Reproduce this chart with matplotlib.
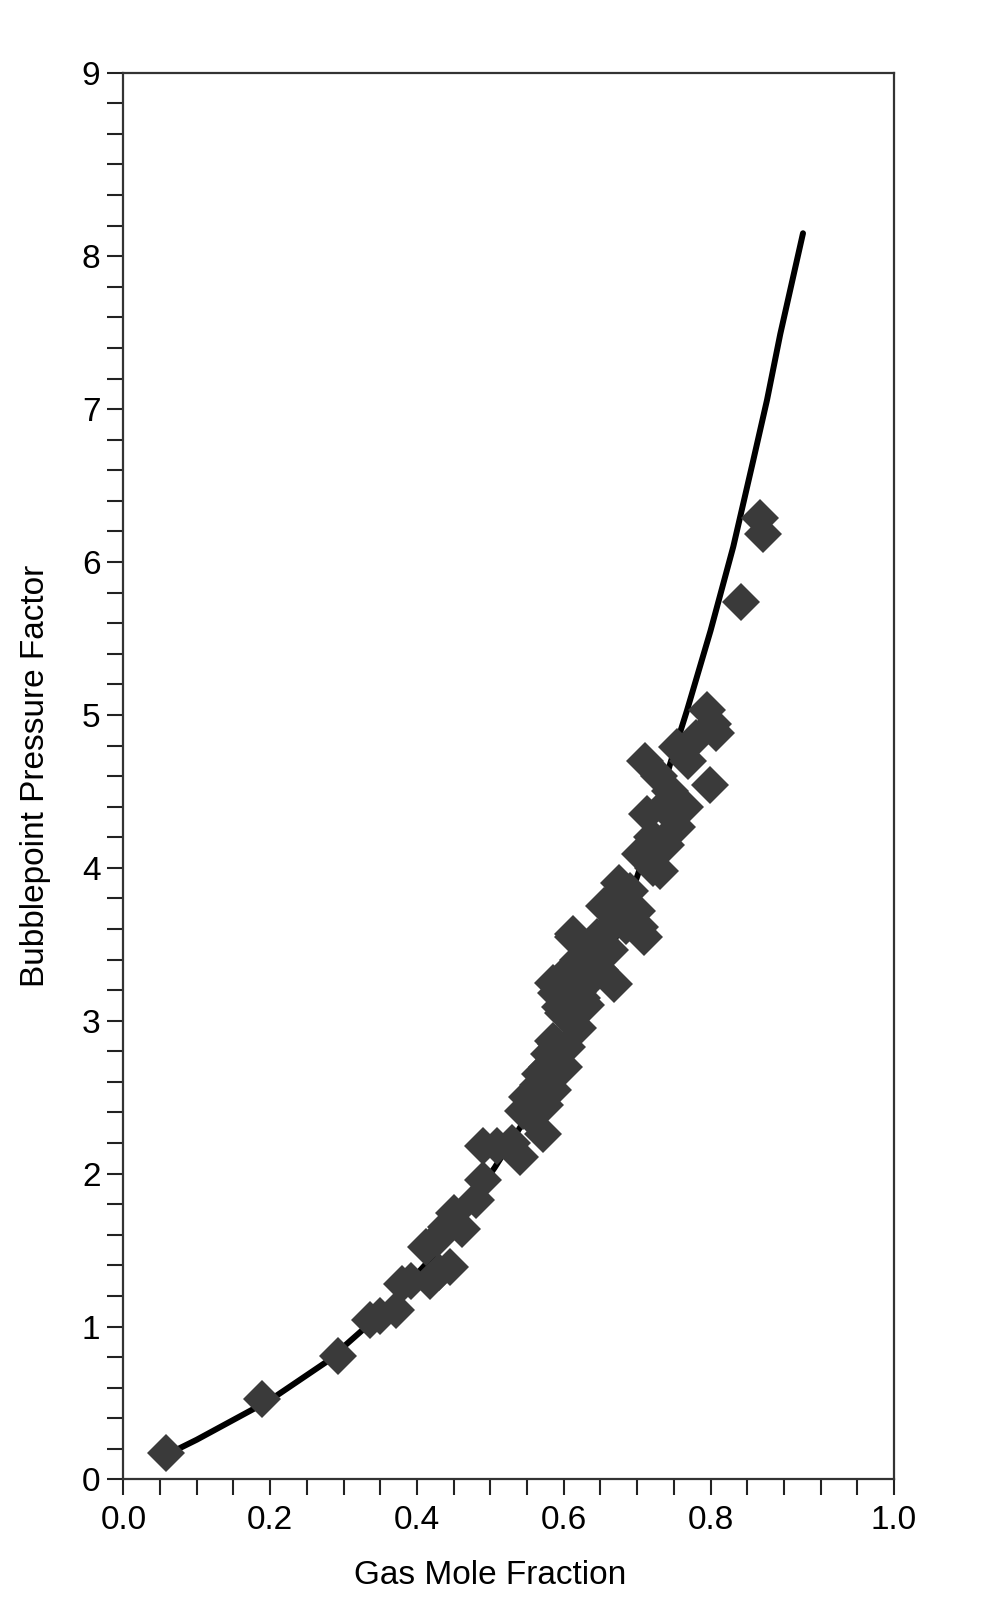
import matplotlib
matplotlib.use("Agg")
import matplotlib.pyplot as plt
from matplotlib.ticker import MultipleLocator

plt.rcParams['font.family'] = ['Liberation Sans', 'DejaVu Sans']

# fitted curve
curve_x = [0.058, 0.10, 0.15, 0.20, 0.277, 0.35, 0.42, 0.506, 0.56, 0.618,
           0.659, 0.702, 0.745, 0.768, 0.80, 0.831, 0.858, 0.877, 0.895, 0.926]
curve_y = [0.16, 0.26, 0.39, 0.52, 0.77, 1.08, 1.45, 2.04, 2.45, 2.96,
           3.38, 3.97, 4.68, 5.03, 5.55, 6.10, 6.66, 7.06, 7.49, 8.15]

# measured data
gas_x = [0.058, 0.189, 0.293,
         0.336, 0.350, 0.372, 0.379, 0.392, 0.418, 0.430, 0.445, 0.413, 0.427,
         0.440, 0.450, 0.462,
         0.481, 0.490, 0.490, 0.509, 0.540, 0.530, 0.555, 0.572, 0.559, 0.545,
         0.550,
         0.568, 0.577, 0.586, 0.590, 0.604, 0.595, 0.599, 0.580, 0.565,
         0.600, 0.585, 0.575,
         0.613, 0.613, 0.631, 0.668, 0.650, 0.663, 0.677, 0.704, 0.709, 0.620,
         0.640, 0.625, 0.612, 0.645, 0.660, 0.672, 0.690, 0.700, 0.685,
         0.585, 0.590, 0.600, 0.630, 0.640, 0.620, 0.655, 0.675, 0.690,
         0.722, 0.731, 0.704, 0.713, 0.754, 0.720, 0.735, 0.745, 0.730, 0.711,
         0.754, 0.770, 0.799, 0.804, 0.795, 0.808, 0.780, 0.765, 0.740,
         0.842, 0.867, 0.872]
gas_y = [0.17, 0.526, 0.81,
         1.04, 1.07, 1.11, 1.28, 1.30, 1.30, 1.36, 1.39, 1.52, 1.57,
         1.65, 1.74, 1.64,
         1.83, 1.96, 2.18, 2.18, 2.11, 2.20, 2.37, 2.26, 2.50, 2.41,
         2.50,
         2.65, 2.70, 2.87, 2.85, 2.83, 3.09, 3.05, 2.78, 2.58,
         2.70, 2.55, 2.45,
         3.57, 3.55, 3.24, 3.24, 3.33, 3.46, 3.70, 3.61, 3.55, 3.40,
         3.30, 3.15, 3.20, 3.55, 3.60, 3.83, 3.75, 3.72, 3.62,
         3.25, 3.18, 3.30, 3.10, 3.45, 2.95, 3.75, 3.90, 3.85,
         4.00, 3.98, 4.09, 4.35, 4.27, 4.20, 4.40, 4.50, 4.60, 4.70,
         4.79, 4.70, 4.54, 4.94, 5.03, 4.88, 4.85, 4.40, 4.15,
         5.74, 6.29, 6.18]

x_ticks = [0.0, 0.2, 0.4, 0.6, 0.8, 1.05]
x_labels = ["0.0", "0.2", "0.4", "0.6", "0.8", "1.0"]
y_ticks = [0, 1, 2, 3, 4, 5, 6, 7, 8, 9.2]
y_labels = ["0", "1", "2", "3", "4", "5", "6", "7", "8", "9"]

fig = plt.figure(figsize=(9.82, 16.01), dpi=100)
ax = fig.add_axes([0.1256, 0.0759, 0.7848, 0.8787])

ax.plot(curve_x, curve_y, color="black", lw=4.3, solid_capstyle="round", zorder=2)
ax.plot(gas_x, gas_y, linestyle="none", marker="D", ms=19,
        color="#3a3a3a", markeredgewidth=0, zorder=3)

ax.set_xlim(0, 1.05)
ax.set_ylim(0, 9.2)
ax.set_xticks(x_ticks)
ax.set_xticklabels(x_labels)
ax.set_yticks(y_ticks)
ax.set_yticklabels(y_labels)
ax.xaxis.set_minor_locator(MultipleLocator(0.05))
ax.yaxis.set_minor_locator(MultipleLocator(0.2))

ax.tick_params(which="both", direction="out", length=11.5, width=1.5,
               color="#222222", labelsize=24)
ax.tick_params(axis="x", pad=7)
ax.tick_params(axis="y", pad=5)
for s in ax.spines.values():
    s.set_linewidth(1.6)
    s.set_color("#333333")

ax.set_xlabel("Gas Mole Fraction", fontsize=24)
ax.set_ylabel("Bubblepoint Pressure Factor", fontsize=24)
ax.xaxis.set_label_coords(0.476, -0.057)
ax.yaxis.set_label_coords(-0.094, 0.5)

fig.savefig("out.png", dpi=100, facecolor="white")
